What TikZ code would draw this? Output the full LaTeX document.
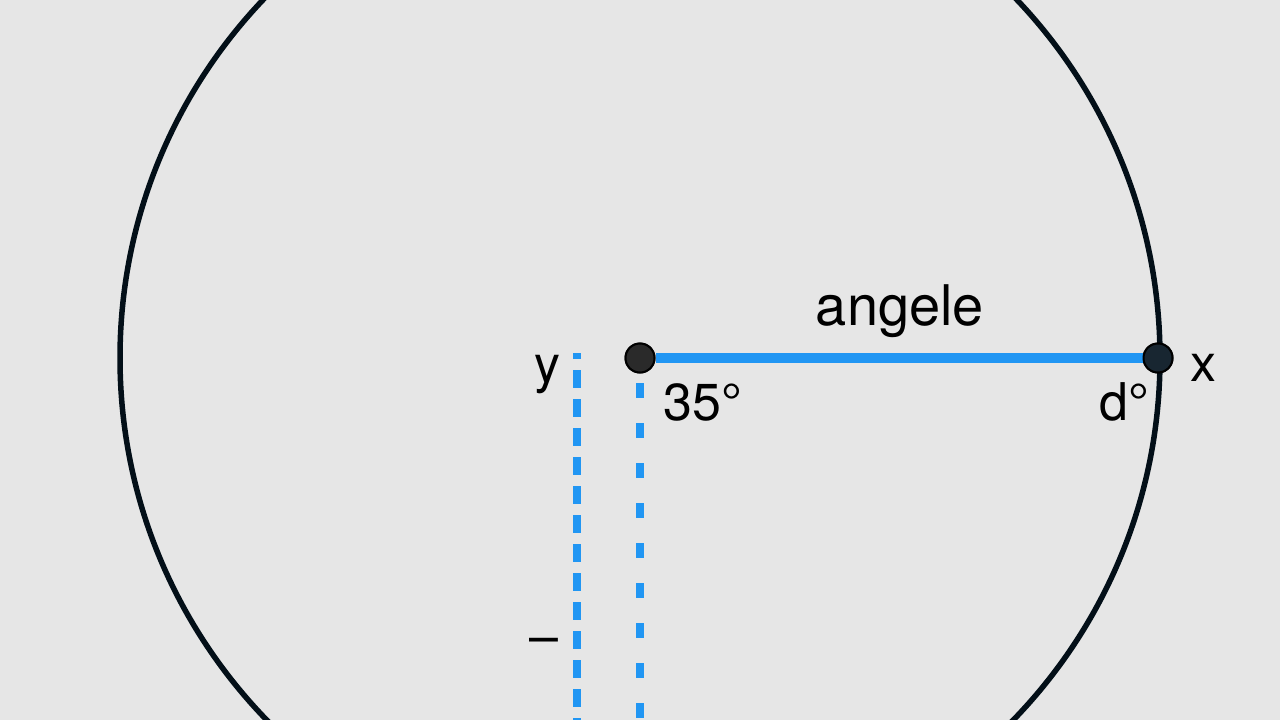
\documentclass[tikz,border=0pt]{standalone}
\usepackage{fontspec}
\setmainfont{TeX Gyre Heros}
\definecolor{paper}{HTML}{E6E6E6}
\definecolor{ray}{HTML}{2196F3}
\definecolor{pin}{HTML}{2A2A2A}
\tikzset{
  lbl/.style={inner sep=0pt, font=\fontsize{52}{62}\selectfont},
  pt/.style={circle, fill=pin, draw=black, line width=2pt, minimum size=29pt, inner sep=0pt},
  guide/.style={ray, line width=8pt}
}
\begin{document}
\begin{tikzpicture}[x=1pt,y=-1pt]
  \fill[paper] (0,0) rectangle (1280,720);
  \useasboundingbox (0,0) rectangle (1280,720);
  \clip (0,0) rectangle (1280,720);
  % the circle
  \coordinate (o) at (640,358);
  \draw[black!90!ray, line width=5.5pt] (o) circle (520);
  % dashed guides
  \coordinate (ytop) at (577,353);
  \coordinate (ybot) at (577,725);
  \coordinate (otop) at (640,383);
  \coordinate (obot) at (640,725);
  \draw[guide, dash pattern=on 18pt off 11pt, dash phase=12pt] (ytop) -- (ybot);
  \draw[guide, line width=7.5pt, dash pattern=on 15pt off 25pt] (otop) -- (obot);
  % radius
  \node[pt] (centre) at (o) {};
  \node[pt, fill=pin!80!ray!60!black] (xend) at (1158,358) {};
  \draw[ray, line width=10pt] (centre) -- (xend);
  \node[pt] at (centre) {};
  \node[pt, fill=pin!80!ray!60!black] at (xend) {};
  % labels
  \node[lbl, font=\fontsize{56}{66}\selectfont] (angele) at (900,311) {angele};
  \node[lbl] (deg) at (703,402) {35°};
  \node[lbl] (dd) at (1124,402) {d°};
  \node[lbl] (xl) at (1203,368) {x};
  \node[lbl] (yl) at (547,375) {y};
  \node[lbl] (dash) at (544,646) {–};
\end{tikzpicture}
\end{document}
